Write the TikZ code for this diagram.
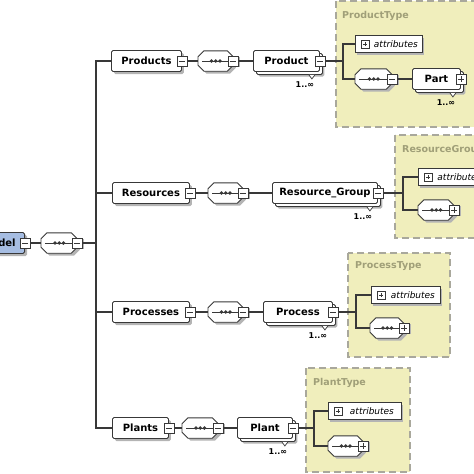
\documentclass[tikz,border=0pt]{standalone}
\usepackage{fontspec}
\setmainfont{DejaVu Sans}
\usetikzlibrary{shadows}

\definecolor{boxline}{HTML}{383838}
\definecolor{shade}{HTML}{B4B4B4}
\definecolor{typefill}{HTML}{F0EEBC}
\definecolor{typeedge}{HTML}{A9A89C}
\definecolor{typetext}{HTML}{A09F78}
\definecolor{modelfill}{HTML}{A6BDE2}

% sequence compositor: octagon with the dotted bar
\newcommand\seqnode[4]{%
  \node[seqbox, minimum width=#4] (#1) at (#2,#3) {};
  \path[seqshape] ([xshift=6pt]#1.north west) -- ([xshift=-6pt]#1.north east)
    -- ([yshift=-6pt]#1.north east) -- ([yshift=6pt]#1.south east)
    -- ([xshift=-6pt]#1.south east) -- ([xshift=6pt]#1.south west)
    -- ([yshift=6pt]#1.south west) -- ([yshift=-6pt]#1.north west) -- cycle;
  \draw[boxline, line width=1pt] ([xshift=4pt]#1.west) -- ([xshift=-4pt]#1.east);
  \foreach \dx in {-4.2,0,4.2} \fill[boxline] ([xshift=\dx pt]#1.center) circle (1.9pt);
}

\begin{document}
\begin{tikzpicture}[x=1pt, y=-1pt,
  conn/.style={draw=boxline, line width=1.1pt},
  ebox/.style={draw=boxline, fill=white, line width=0.9pt, rounded corners=1.5pt,
    anchor=west, minimum height=21pt, inner sep=0pt, font=\fontsize{10}{12}\bfseries},
  elem/.style={ebox, drop shadow={shadow xshift=2.5pt, shadow yshift=-2.5pt, fill=shade, opacity=1}},
  multibox/.style={ebox, drop shadow={shadow xshift=5pt, shadow yshift=-5pt, fill=shade, opacity=1},
    copy shadow={shadow xshift=3pt, shadow yshift=-3pt, fill=white, draw=boxline, line width=0.9pt}},
  pmbox/.style={draw=boxline, fill=white, line width=0.8pt, minimum size=10pt, inner sep=0pt,
    drop shadow={shadow xshift=1.2pt, shadow yshift=-1.2pt, fill=shade, opacity=1}},
  minusbox/.style={pmbox, path picture={
    \draw[boxline, line width=0.8pt] ([xshift=2pt]path picture bounding box.west) -- ([xshift=-2pt]path picture bounding box.east);}},
  plusbox/.style={pmbox, path picture={
    \draw[boxline, line width=0.8pt] ([xshift=2pt]path picture bounding box.west) -- ([xshift=-2pt]path picture bounding box.east)
      ([yshift=-2pt]path picture bounding box.north) -- ([yshift=2pt]path picture bounding box.south);}},
  seqbox/.style={rectangle, anchor=west, minimum height=20pt, inner sep=0pt},
  seqshape/.style={draw=boxline, fill=white, line width=0.9pt,
    drop shadow={shadow xshift=2.5pt, shadow yshift=-2.5pt, fill=shade, opacity=1}},
  attrbox/.style={draw=boxline, fill=white, line width=0.9pt, anchor=west, minimum width=68pt,
    minimum height=17pt, inner sep=0pt, font=\fontsize{9}{11}\itshape,
    drop shadow={shadow xshift=2pt, shadow yshift=-2pt, fill=shade, opacity=1}},
  typebox/.style={draw=typeedge, fill=typefill, line width=1.6pt, dash pattern=on 7pt off 4pt},
  typelabel/.style={anchor=west, text=typetext, font=\fontsize{9.5}{11}\bfseries, inner sep=0pt},
  tick/.style={draw=boxline, fill=white, line width=0.7pt},
  mult/.style={font=\fontsize{8}{9}\bfseries, inner sep=0pt}]
\useasboundingbox (0,0) rectangle (474,474);

% type containers
\draw[typebox] (336,1) rectangle (490,127);
\node[typelabel] (pt-label) at (342,16) {ProductType};
\draw[typebox] (395,135) rectangle (490,238);
\node[typelabel] (rgt-label) at (402,150) {ResourceGroupType};
\draw[typebox] (348,253) rectangle (450,357);
\node[typelabel] (prt-label) at (355,266) {ProcessType};
\draw[typebox] (306,368) rectangle (410,472);
\node[typelabel] (plt-label) at (313,383) {PlantType};

% root
\node[elem, fill=modelfill, anchor=east, minimum width=52pt] (model) at (25,243) {Model};
\node[minusbox] (model-pm) at (model.east) {};
\seqnode{modelseq}{41}{243}{36pt}
\node[minusbox] (modelseq-pm) at (modelseq.east) {};
\coordinate (bus) at (96,243);

% products
\node[elem, minimum width=70pt] (products) at (111,61) {Products};
\node[minusbox] (products-pm) at (products.east) {};
\seqnode{prodseq}{198}{61}{35pt}
\node[minusbox] (prodseq-pm) at (prodseq.east) {};
\node[multibox, minimum width=66pt] (product) at (253,61) {Product};
\node[minusbox] (product-pm) at (product.east) {};
\draw[tick] ([xshift=-11pt,yshift=-3pt]product.south east) -- ++(3,4) -- ++(3,-4);
\node[mult] (product-n) at ([xshift=-15pt,yshift=-13pt]product.south east) {1..∞};
\coordinate (ptbus) at (343,61);
\node[attrbox, minimum width=67pt] (ptattr) at (355,44) {\hspace{14pt}attributes};
\node[plusbox, minimum size=8pt] (ptattr-pm) at ([xshift=10pt]ptattr.west) {};
\seqnode{ptseq}{355}{79}{37pt}
\node[minusbox] (ptseq-pm) at (ptseq.east) {};
\node[multibox, minimum width=48pt] (part) at (412,79) {Part};
\node[plusbox] (part-pm) at (part.east) {};
\draw[tick] ([xshift=-11pt,yshift=-3pt]part.south east) -- ++(3,4) -- ++(3,-4);
\node[mult] (part-n) at ([xshift=-15pt,yshift=-13pt]part.south east) {1..∞};

% resources
\node[elem, minimum width=77pt] (resources) at (112,193) {Resources};
\node[minusbox] (resources-pm) at (resources.east) {};
\seqnode{resseq}{208}{193}{35pt}
\node[minusbox] (resseq-pm) at (resseq.east) {};
\node[multibox, minimum width=105pt] (resgroup) at (272,193) {Resource\_Group};
\node[minusbox] (resgroup-pm) at (resgroup.east) {};
\draw[tick] ([xshift=-11pt,yshift=-3pt]resgroup.south east) -- ++(3,4) -- ++(3,-4);
\node[mult] (resgroup-n) at ([xshift=-15pt,yshift=-13pt]resgroup.south east) {1..∞};
\coordinate (rgbus) at (403,193);
\node[attrbox] (rgattr) at (418,177) {\hspace{14pt}attributes};
\node[plusbox, minimum size=8pt] (rgattr-pm) at ([xshift=10pt]rgattr.west) {};
\seqnode{rgseq}{418}{210}{36pt}
\node[plusbox] (rgseq-pm) at (rgseq.east) {};

% processes
\node[elem, minimum width=77pt] (processes) at (112,312) {Processes};
\node[minusbox] (processes-pm) at (processes.east) {};
\seqnode{procseq}{208}{312}{35pt}
\node[minusbox] (procseq-pm) at (procseq.east) {};
\node[multibox, minimum width=69pt] (process) at (263,312) {Process};
\node[minusbox] (process-pm) at (process.east) {};
\draw[tick] ([xshift=-11pt,yshift=-3pt]process.south east) -- ++(3,4) -- ++(3,-4);
\node[mult] (process-n) at ([xshift=-15pt,yshift=-13pt]process.south east) {1..∞};
\coordinate (prtbus) at (356,312);
\node[attrbox, minimum width=69pt] (prtattr) at (371,295) {\hspace{14pt}attributes};
\node[plusbox, minimum size=8pt] (prtattr-pm) at ([xshift=10pt]prtattr.west) {};
\seqnode{prtseq}{370}{328}{34pt}
\node[plusbox] (prtseq-pm) at (prtseq.east) {};

% plants
\node[elem, minimum width=56pt] (plants) at (112,428) {Plants};
\node[minusbox] (plants-pm) at (plants.east) {};
\seqnode{plantseq}{182}{428}{36pt}
\node[minusbox] (plantseq-pm) at (plantseq.east) {};
\node[multibox, minimum width=55pt] (plant) at (237,428) {Plant};
\node[minusbox] (plant-pm) at (plant.east) {};
\draw[tick] ([xshift=-11pt,yshift=-3pt]plant.south east) -- ++(3,4) -- ++(3,-4);
\node[mult] (plant-n) at ([xshift=-15pt,yshift=-13pt]plant.south east) {1..∞};
\coordinate (pltbus) at (314,428);
\node[attrbox, minimum width=73pt] (pltattr) at (328,411) {\hspace{14pt}attributes};
\node[plusbox, minimum size=8pt] (pltattr-pm) at ([xshift=10pt]pltattr.west) {};
\seqnode{pltseq}{328}{446}{35pt}
\node[plusbox] (pltseq-pm) at (pltseq.east) {};

% connectors
\draw[conn] (model-pm.east) -- (modelseq.west);
\draw[conn] (modelseq-pm.east) -- (bus);
\draw[conn] (products.west) -| (bus) |- (plants.west);
\draw[conn] (resources.west) -- (resources.west -| bus);
\draw[conn] (processes.west) -- (processes.west -| bus);

\draw[conn] (products-pm.east) -- (prodseq.west);
\draw[conn] (prodseq-pm.east) -- (product.west);
\draw[conn] (product-pm.east) -- (ptbus);
\draw[conn] (ptattr.west) -| (ptbus) |- (ptseq.west);
\draw[conn] (ptseq-pm.east) -- (part.west);

\draw[conn] (resources-pm.east) -- (resseq.west);
\draw[conn] (resseq-pm.east) -- (resgroup.west);
\draw[conn] (resgroup-pm.east) -- (rgbus);
\draw[conn] (rgattr.west) -| (rgbus) |- (rgseq.west);

\draw[conn] (processes-pm.east) -- (procseq.west);
\draw[conn] (procseq-pm.east) -- (process.west);
\draw[conn] (process-pm.east) -- (prtbus);
\draw[conn] (prtattr.west) -| (prtbus) |- (prtseq.west);

\draw[conn] (plants-pm.east) -- (plantseq.west);
\draw[conn] (plantseq-pm.east) -- (plant.west);
\draw[conn] (plant-pm.east) -- (pltbus);
\draw[conn] (pltattr.west) -| (pltbus) |- (pltseq.west);
\end{tikzpicture}
\end{document}
